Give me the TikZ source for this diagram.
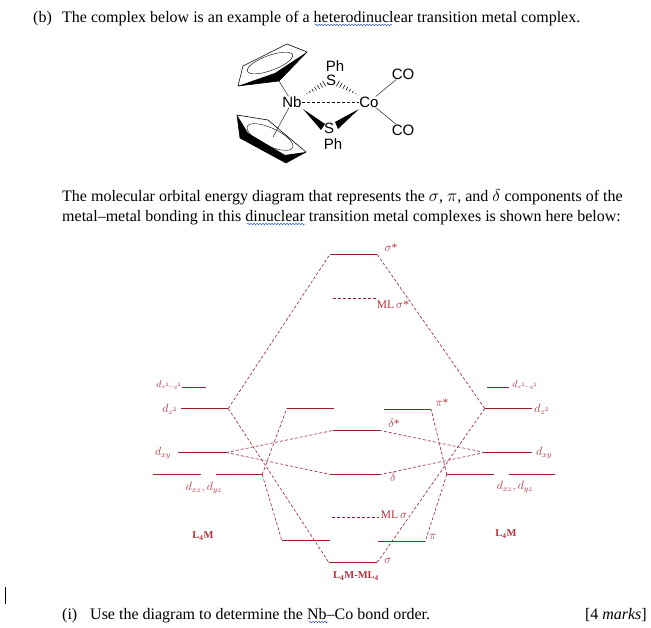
\documentclass[tikz,border=0pt]{standalone}
\usepackage{fontspec}
\usepackage{amsmath}
\usepackage{xcolor}
\usetikzlibrary{calc,decorations.pathmorphing}
\setmainfont{Liberation Serif}
\newfontfamily\chemfont{Liberation Sans}
\definecolor{LevelRed}{HTML}{98202E}
\definecolor{LabelRed}{HTML}{B5303C}
\definecolor{SquiggleBlue}{HTML}{3A5FCD}
\newcommand{\hashbond}[2]{%
    \foreach \t in {0.05,0.18,...,1.0}
        \draw[line width=0.55pt] ($(#1)!\t!(#2)!{\t*3.2pt}!90:(#2)$) -- ($(#1)!\t!(#2)!{\t*3.2pt}!-90:(#2)$);}
\tikzset{
    level/.style={fill=LevelRed, inner sep=0pt, minimum height=1.4pt},
    mix/.style={LevelRed, densely dashed, line width=0.6pt},
    orb/.style={LabelRed, font=\fontsize{11.5}{13}\selectfont, inner sep=0pt},
    bold/.style={LabelRed, font=\bfseries\fontsize{10.5}{12}\selectfont, inner sep=0pt},
    para/.style={anchor=base west, inner sep=0pt, font=\fontsize{16}{18}\selectfont},
    atom/.style={font=\chemfont\fontsize{15}{17}\selectfont, inner sep=0pt},
    squiggle/.style={SquiggleBlue, line width=0.5pt, decorate, decoration={snake, amplitude=0.8pt, segment length=3pt}}
}
\begin{document}
\begin{tikzpicture}[x=1pt, y=-1pt]
    \useasboundingbox (0,0) rectangle (651,627);
    % text lines
    \node[para] (partb) at (33,22) {(b)};
    \node[para] (line1) at (62,22) {The complex below is an example of a heterodinuclear transition metal complex.};
    \node[para] (line2) at (62,201) {The molecular orbital energy diagram that represents the $\sigma$, $\pi$, and $\delta$ components of the};
    \node[para] (line3) at (62,221) {metal--metal bonding in this dinuclear transition metal complexes is shown here below:};
    \node[para] (parti) at (62,619) {(i)};
    \node[para] (line4) at (90,619) {Use the diagram to determine the Nb--Co bond order.};
    \node[para, anchor=base east] (marks) at (647,619) {[4 \textit{marks}]};
    \draw[squiggle] (315,25) -- (392,25);
    \draw[squiggle] (247,224) -- (305,224);
    \draw[squiggle] (309,622) -- (328,622);
    \draw[line width=0.8pt] (5,587) -- (5,604);

    % complex
    \node[atom] (Nb) at (292,102) {Nb};
    \node[atom] (Co) at (369,102) {Co};
    \node[atom] (Stop) at (331,80) {S};
    \node[atom] (Ptop) at (335,66) {Ph};
    \node[atom] (Sbot) at (329,128) {S};
    \node[atom] (Pbot) at (333,144) {Ph};
    \node[atom] (COa) at (403,74) {CO};
    \node[atom] (COb) at (403,130) {CO};
    \draw[densely dashed] (Nb) -- (Co);
    \draw (Co) -- (COa);
    \draw (Co) -- (COb);
    \coordinate (hashA) at (303,96);
    \coordinate (hashB) at (325,83);
    \coordinate (hashC) at (360,96);
    \coordinate (hashD) at (337,83);
    \hashbond{hashA}{hashB}
    \hashbond{hashC}{hashD}
    \fill (303,109) -- (325,124) -- (321,130) -- cycle;
    \fill (359,109) -- (335,122) -- (338,129) -- cycle;
    % cp rings
    \draw[line width=0.6pt] (287,44) -- (307,52) -- (279,81) -- (238,86) -- (243,66) -- cycle;
    \fill (307,52) -- (279,81) -- (238,86) -- (275,73) -- cycle;
    \draw[rotate around={20:(270,63)}] (270,63) ellipse (24 and 7.5);
    \draw (Nb) -- (279,81);
    \draw[line width=0.6pt] (237,115) -- (268,120) -- (306,152) -- (286,163) -- (240,138) -- cycle;
    \fill (237,115) -- (240,138) -- (286,163) -- (306,152) -- (285,155) -- (248,133) -- cycle;
    \draw[rotate around={-25:(270,137)}] (270,137) ellipse (25 and 9);
    \draw (Nb) -- (273,137);

    % metal levels, left
    \node[level, minimum width=24] (xyL) at (194,387.5) {};
    \node[level, minimum width=47] (dzL) at (204.5,408.5) {};
    \node[level, minimum width=48] (dxyL) at (202,452.5) {};
    \node[level, minimum width=48] (dxzL) at (177,474.5) {};
    \node[level, minimum width=46] (dyzL) at (239,474.5) {};
    % metal levels, right
    \node[level, minimum width=22] (xyR) at (498,387.5) {};
    \node[level, minimum width=47] (dzR) at (508.5,408.5) {};
    \node[level, minimum width=47] (dxyR) at (508.5,452.5) {};
    \node[level, minimum width=47] (dxzR) at (470.5,474.5) {};
    \node[level, minimum width=46] (dyzR) at (532,474.5) {};
    % dimer levels
    \node[level, minimum width=47] (sigS) at (353.5,254.5) {};
    \node[level, minimum width=47] (piSL) at (310.5,408.5) {};
    \node[level, minimum width=47] (piSR) at (407.5,409.5) {};
    \node[level, minimum width=47] (delS) at (356.5,430.5) {};
    \node[level, minimum width=49] (del) at (355.5,474.5) {};
    \node[level, minimum width=48] (piL) at (306,540.5) {};
    \node[level, minimum width=47] (piR) at (401.5,541.5) {};
    \node[level, minimum width=48] (sig) at (353,562.5) {};
    \coordinate (mlsA) at (333,298.5);
    \coordinate (mlsB) at (377,298.5);
    \coordinate (mlA) at (332,517.5);
    \coordinate (mlB) at (379,517.5);
    \draw[mix] (mlsA) -- (mlsB);
    \draw[mix] (mlA) -- (mlB);

    % correlation lines
    \draw[mix] (dzL.east) -- (sigS.west);
    \draw[mix] (dzL.east) -- (sig.west);
    \draw[mix] (dzR.west) -- (sigS.east);
    \draw[mix] (dzR.west) -- (sig.east);
    \draw[mix] (dxyL.east) -- (delS.west);
    \draw[mix] (dxyL.east) -- (del.west);
    \draw[mix] (dxyR.west) -- (delS.east);
    \draw[mix] (dxyR.west) -- (del.east);
    \draw[mix] (dyzL.east) -- (piSL.west);
    \draw[mix] (dyzL.east) -- (piL.west);
    \draw[mix] (dxzR.west) -- (piSR.east);
    \draw[mix] (dxzR.west) -- (piR.east);

    % orbital labels
    \node[orb, font=\fontsize{10}{12}\selectfont] (lxy) at (169,385) {$d_{\scriptscriptstyle x^2\!-y^2}$};
    \node[orb] (lz) at (170,409) {$d_{z^2}$};
    \node[orb] (lxyb) at (163,453) {$d_{xy}$};
    \node[orb] (lxz) at (204,488) {$d_{xz},d_{yz}$};
    \node[orb, font=\fontsize{10}{12}\selectfont] (rxy) at (525,385) {$d_{\scriptscriptstyle x^2\!-y^2}$};
    \node[orb] (rz) at (542,409) {$d_{z^2}$};
    \node[orb] (rxyb) at (544,453) {$d_{xy}$};
    \node[orb] (rxz) at (515,487) {$d_{xz},d_{yz}$};
    \node[orb] (lsigS) at (391,248) {$\sigma$*};
    \node[orb] (lml) at (393,305) {ML\,$\sigma$*};
    \node[orb] (lpiS) at (442,403) {$\pi$*};
    \node[orb] (ldelS) at (394,423) {$\delta$*};
    \node[orb] (ldel) at (393,477) {$\delta$};
    \node[orb] (lmlb) at (394,515) {ML\,$\sigma$};
    \node[orb] (lpi) at (433,537) {$\pi$};
    \node[orb] (lsig) at (388,561) {$\sigma$};
    \node[bold] (mL) at (203,536) {L\textsubscript{4}M};
    \node[bold] (mR) at (506,534) {L\textsubscript{4}M};
    \node[bold] (mM) at (356,576) {L\textsubscript{4}M-ML\textsubscript{4}};
\end{tikzpicture}
\end{document}
